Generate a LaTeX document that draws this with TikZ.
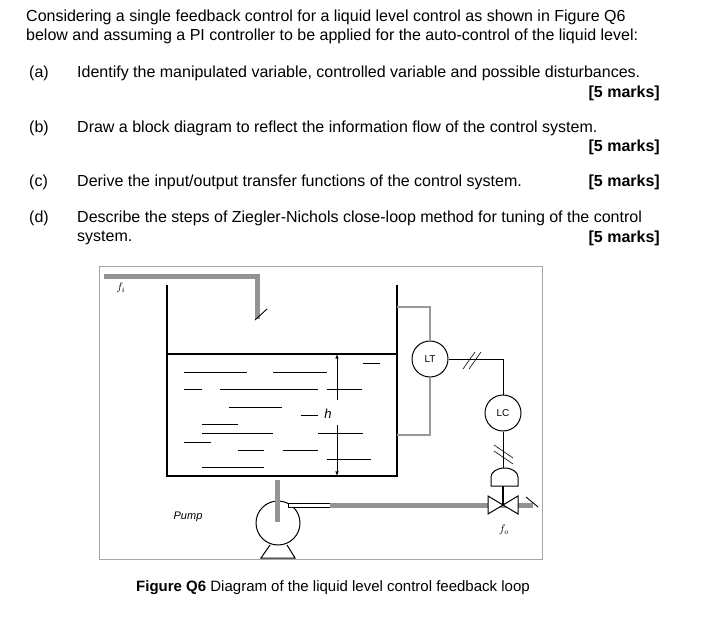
\documentclass[tikz,border=0pt]{standalone}
\usepackage{fontspec}
\setmainfont{Liberation Sans}
\begin{document}
\begin{tikzpicture}[x=1pt,y=-1pt,
  txt/.style={anchor=west,inner sep=0,font=\fontsize{16}{18}\selectfont},
  mk/.style={anchor=east,inner sep=0,font=\fontsize{16}{18}\selectfont\bfseries},
  wall/.style={line width=1.1pt},
  pipe/.style={line width=5pt,gray!85},
  sig/.style={line width=0.9pt},
  inst/.style={circle,draw,line width=1pt,minimum size=36pt,inner sep=0,font=\fontsize{10}{11}\selectfont},
  wat/.style={line width=0.9pt},
  lbl/.style={inner sep=0,font=\fontsize{11}{12}\selectfont\itshape}]
\useasboundingbox (0,0) rectangle (717,636);
\node[txt] (l1) at (26,17) {Considering a single feedback control for a liquid level control as shown in Figure Q6};
\node[txt] (l2) at (26,36) {below and assuming a PI controller to be applied for the auto-control of the liquid level:};
\node[txt] (a) at (29,73) {(a)};
\node[txt] (at) at (77,73) {Identify the manipulated variable, controlled variable and possible disturbances.};
\node[mk] (am) at (660,93) {[5 marks]};
\node[txt] (b) at (29,128) {(b)};
\node[txt] (bt) at (77,128) {Draw a block diagram to reflect the information flow of the control system.};
\node[mk] (bm) at (660,147) {[5 marks]};
\node[txt] (c) at (29,182) {(c)};
\node[txt] (ct) at (77,182) {Derive the input/output transfer functions of the control system.};
\node[mk] (cm) at (660,182) {[5 marks]};
\node[txt] (d) at (29,218) {(d)};
\node[txt] (dt) at (77,218) {Describe the steps of Ziegler-Nichols close-loop method for tuning of the control};
\node[txt] (dt2) at (77,238) {system.};
\node[mk] (dm) at (660,238) {[5 marks]};
% figure frame
\draw[gray!70,line width=0.8pt] (99,266) rectangle (542,559);
% inlet
\draw[pipe] (104,276) -- (257,276) -- (257,319);
\draw[sig] (255,320) -- (267,309);
\node[lbl] (fi) at (121,288) {$f_i$};
% tank
\draw[wall] (167,285) -- (167,476) -- (397,476) -- (397,285);
\draw[wall] (167,354) -- (397,354);
\foreach \a/\b/\y in {184/247/372,273/327/372,363/380/363,184/202/389,220/318/389,327/362/389,229/282/407,301/318/415,202/238/424,202/273/433,318/363/433,184/211/442,238/264/450,283/318/450,327/371/459,202/264/467}
  \draw[wat] (\a,\y) -- (\b,\y);
\node[lbl,font=\fontsize{13}{14}\selectfont\itshape] (h) at (328,414) {h};
\coordinate (ht) at (337,354); \coordinate (hb) at (337,476);
\draw[-latex,line width=0.6pt] (337,400) -- (ht);
\draw[-latex,line width=0.6pt] (337,425) -- (hb);
% pump
\node[circle,draw,line width=1pt,minimum size=44pt,inner sep=0] (pump) at (278,523) {};
\draw[line width=1pt] (270,545) -- (261,558) -- (295,558) -- (287,545);
\draw[pipe] (277,480) -- (277,522);
\draw[line width=0.8pt,fill=white] (288,503) rectangle (330,507);
\draw[pipe] (330,505) -- (533,505);
\draw[sig] (526,497) -- (538,507);
\node[lbl] (pl) at (188,517) {Pump};
% valve
\draw[line width=1pt,fill=white] (488,496) -- (488,514) -- (518,496) -- (518,514) -- cycle;
\draw[line width=1.6pt] (503,486) -- (503,505);
\draw[line width=1pt,fill=white] (491,486) -- (491,477) arc (180:360:13.5 and 9) -- (518,486) -- cycle;
\node[lbl] (fo) at (504,530) {$f_o$};
% instruments
\node[inst] (LT) at (430,359) {LT};
\node[inst] (LC) at (503,413) {LC};
\draw[line width=2.2pt,gray!80] (397,307) -| (LT.north);
\draw[line width=2.2pt,gray!80] (LT.south) |- (397,435);
\draw[sig] (LT.east) -| (LC.north);
\draw[sig] (LC.south) -- (503,468);
\draw[line width=0.6pt] (463,369) -- (475,352) (469,369) -- (481,352);
\draw[line width=0.6pt] (494,445) -- (513,458) (494,451) -- (513,464);
\node[inner sep=0,font=\fontsize{15}{17}\selectfont] (cap) at (333,588) {\textbf{Figure Q6} Diagram of the liquid level control feedback loop};
\end{tikzpicture}
\end{document}
